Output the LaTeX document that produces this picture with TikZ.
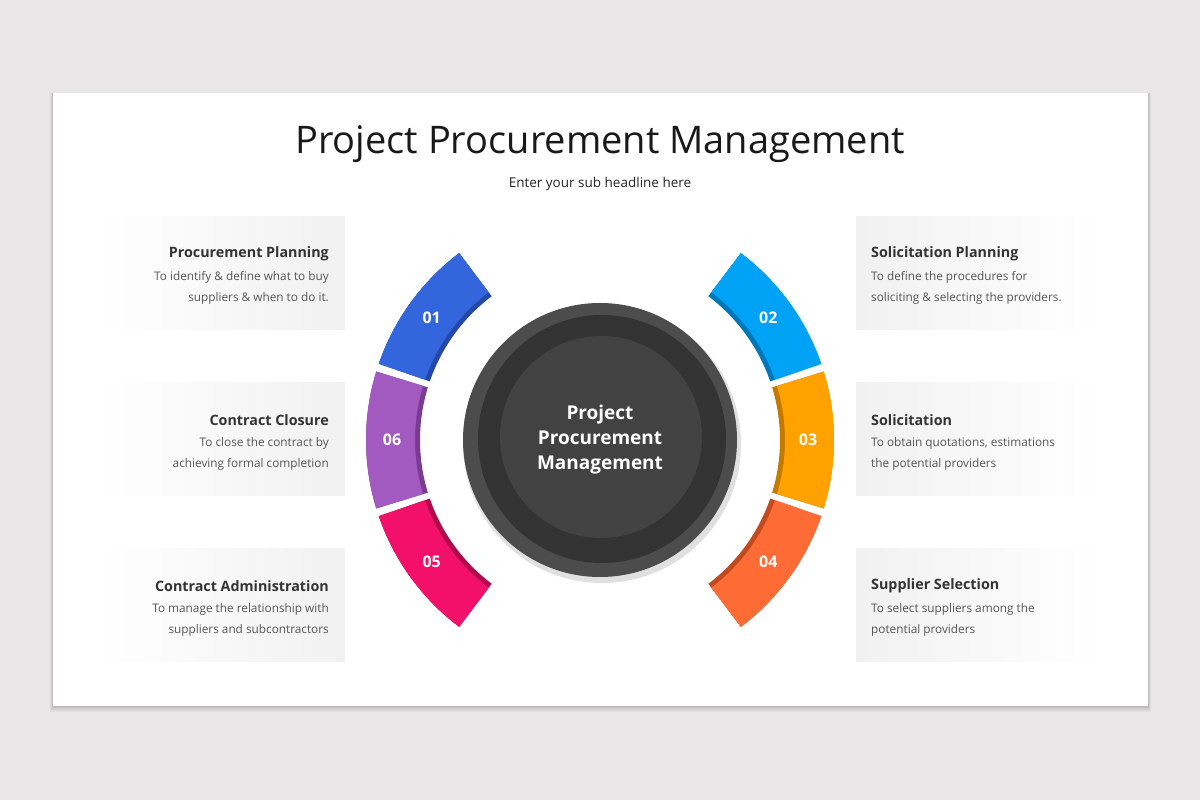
\documentclass[tikz,border=0pt]{standalone}
\usepackage{fontspec}
\setmainfont{Open Sans}
\usetikzlibrary{shadings}
\definecolor{bgc}{HTML}{E8E6E7}
\definecolor{txt}{HTML}{333333}
\definecolor{body}{HTML}{555555}
\definecolor{boxg}{HTML}{F1F1F1}
\definecolor{cA}{HTML}{3366DD}\definecolor{dA}{HTML}{2447A8}
\definecolor{cB}{HTML}{00A2F5}\definecolor{dB}{HTML}{0077B8}
\definecolor{cC}{HTML}{FFA200}\definecolor{dC}{HTML}{C27A00}
\definecolor{cD}{HTML}{FF6B35}\definecolor{dD}{HTML}{C24A1E}
\definecolor{cE}{HTML}{F2106A}\definecolor{dE}{HTML}{B00A4C}
\definecolor{cF}{HTML}{A259C0}\definecolor{dF}{HTML}{7A3B93}
\tikzset{
  head/.style={font=\fontsize{14.3}{18}\selectfont\bfseries, text=txt, inner sep=0},
  desc/.style={font=\fontsize{11.8}{21}\selectfont, text=body, inner sep=0},
  num/.style={font=\fontsize{16}{18}\selectfont\bfseries, text=white},
}
\newcommand\myseg[5]{%
  \begin{scope}[shift={(600,360)}]
  \fill[#4] (#1:234) arc[start angle=#1,end angle=#2,radius=234] -- (#2:180) arc[start angle=#2,end angle=#1,radius=180] -- cycle;
  \fill[#3] (#1:234) arc[start angle=#1,end angle=#2,radius=234] -- (#2:185) arc[start angle=#2,end angle=#1,radius=185] -- cycle;
  \node[num] (s#5) at ({(#1+#2)/2}:208) {#5};
  \end{scope}}
\begin{document}
\begin{tikzpicture}[x=1pt,y=1pt]
\fill[bgc] (0,0) rectangle (1200,800);
\useasboundingbox (0,0) rectangle (1200,800);
% slide shadow
\foreach \i/\o in {6/0.04,4/0.06,2/0.08}{\fill[black,opacity=\o] (53-\i/2,94-\i) rectangle (1148+\i/2,707);}
\fill[white] (53,94) rectangle (1148,707);
% title
\node[font=\fontsize{38}{44}\selectfont, text=black!90] (title) at (600,656) {Project Procurement Management};
\node[font=\fontsize{13.5}{16}\selectfont, text=black!85] (sub) at (600,616) {Enter your sub headline here};
% boxes
\foreach \y in {470,304,138}{\shade[left color=white,right color=boxg] (100,\y) rectangle (345,\y+113);}
\foreach \y in {470,304,138}{\shade[left color=boxg,right color=white] (856,\y) rectangle (1100,\y+113);}
% left texts
\node[head,anchor=east] (h1) at (329,546) {Procurement Planning};
\node[desc,anchor=north east,align=right] (d1) at (329,529) {To identify \& define what to buy\\suppliers \& when to do it.};
\node[head,anchor=east] (h6) at (329,380) {Contract Closure};
\node[desc,anchor=north east,align=right] (d6) at (329,363) {To close the contract by\\achieving formal completion};
\node[head,anchor=east] (h5) at (329,214) {Contract Administration};
\node[desc,anchor=north east,align=right] (d5) at (329,197) {To manage the relationship with\\suppliers and subcontractors};
% right texts
\node[head,anchor=west] (h2) at (871,546) {Solicitation Planning};
\node[desc,anchor=north west,align=left] (d2) at (871,529) {To define the procedures for\\soliciting \& selecting  the providers.};
\node[head,anchor=west] (h3) at (871,380) {Solicitation};
\node[desc,anchor=north west,align=left] (d3) at (871,363) {To obtain quotations, estimations\\the potential providers};
\node[head,anchor=west] (h4) at (871,214) {Supplier Selection};
\node[desc,anchor=north west,align=left] (d4) at (871,197) {To select suppliers among the\\potential providers};
% segments
\myseg{127}{161}{cA}{dA}{01}
\myseg{163}{197}{cF}{dF}{06}
\myseg{199}{233}{cE}{dE}{05}
\myseg{53}{19}{cB}{dB}{02}
\myseg{17}{-17}{cC}{dC}{03}
\myseg{-19}{-53}{cD}{dD}{04}
% center circle
\fill[black,opacity=0.12] (602,356) circle (139);
\fill[black!70] (600,360) circle (137);
\fill[black!80] (602,361) circle (124);
\fill[black!74] (601,363) circle (101);
\node[font=\fontsize{19}{25}\selectfont\bfseries, text=white, align=center] (c) at (600,360) {Project\\Procurement\\Management};
\end{tikzpicture}
\end{document}
